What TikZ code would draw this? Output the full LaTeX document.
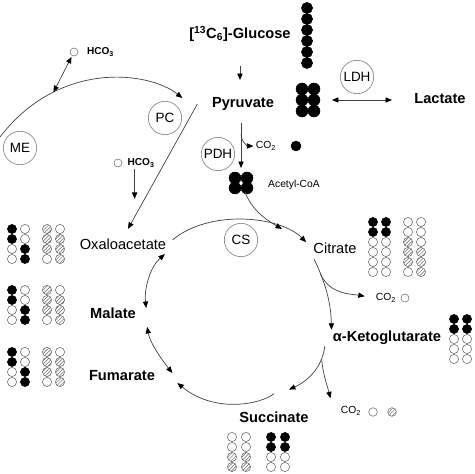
\documentclass[tikz,border=0pt]{standalone}
\usepackage{fontspec}
\setmainfont{Liberation Sans}
\usetikzlibrary{arrows.meta,positioning,patterns,shapes}

% one column of carbon atoms, 10 units apart
\newcommand{\ccol}[3]{%
  \foreach \s [count=\i from 0] in {#3}
    \draw[c\s] (#1,{#2-10*\i}) circle[radius=4.6];%
}

\begin{document}
\begin{tikzpicture}[
    x=0.03cm, y=0.03cm,
    met/.style={font=\fontsize{12.5}{14}\selectfont, inner sep=1pt},
    metb/.style={font=\fontsize{12.5}{14}\selectfont\bfseries, inner sep=1pt},
    enzyme/.style={circle, draw=black!45, line width=0.6pt, minimum size=1cm, inner sep=0pt, font=\fontsize{11.5}{13}\selectfont},
    small/.style={font=\fontsize{8.8}{10}\selectfont, inner sep=1pt},
    smallb/.style={font=\fontsize{8.6}{10}\selectfont\bfseries, inner sep=1pt},
    arrow/.style={draw=black!75, line width=0.6pt, -{Triangle[length=5.5pt, width=4.5pt, color=black]}},
    darrow/.style={arrow, {Triangle[length=5.5pt, width=4.5pt, color=black]}-{Triangle[length=5.5pt, width=4.5pt, color=black]}},
    cb/.style={draw=black, fill=black, line width=0.4pt},
    cw/.style={draw=black!55, fill=white, line width=0.5pt},
    ch/.style={draw=black!55, line width=0.5pt, pattern=north east lines, pattern color=black!60},
    cnode/.style={circle, cw, minimum size=0.24cm, inner sep=0pt}
]
\useasboundingbox (0,0) rectangle (474,474);

% Metabolites
\node[metb] (glucose) at (240,440) {[\textsuperscript{13}C\textsubscript{6}]-Glucose};
\node[metb] (pyruvate) at (243,370) {Pyruvate};
\node[metb] (lactate) at (440,375) {Lactate};
\node[small] (acetyl) at (294,289) {Acetyl-CoA};
\node[met] (oaa) at (123,230) {Oxaloacetate};
\node[met] (citrate) at (335,226) {Citrate};
\node[metb] (akg) at (387,136) {α-Ketoglutarate};
\node[metb] (succinate) at (274,57) {Succinate};
\node[metb] (fumarate) at (122,98) {Fumarate};
\node[metb] (malate) at (113,161) {Malate};

% Enzymes
\node[enzyme] (ldh) at (357,397) {LDH};
\node[enzyme] (pdh) at (218,320) {PDH};
\node[enzyme] (pc) at (165,356) {PC};
\node[enzyme] (me) at (20,326) {ME};
\node[enzyme] (cs) at (241,234) {CS};

% Released / added carbons
\node[small] (co2_pdh) at (266,328) {CO\textsubscript{2}};
\node[small] (co2_cit) at (386,176) {CO\textsubscript{2}};
\node[small] (co2_akg) at (351,63) {CO\textsubscript{2}};
\node[cnode] (hco3_me_c) at (74,422) {};
\node[smallb, right=0.22cm of hco3_me_c] (hco3_me) {HCO\textsubscript{3}};
\node[cnode] (hco3_pc_c) at (118,311) {};
\node[smallb, right=0.12cm of hco3_pc_c] (hco3_pc) {HCO\textsubscript{3}};

% Carbon atoms
\foreach \k in {0,...,5} \draw[cb] (307,{466-11*\k}) circle[radius=5.6];
\foreach \cx in {302,314} \foreach \k in {0,1,2} \draw[cb] (\cx,{385-11*\k}) circle[radius=6];
\foreach \cx in {235,247} \foreach \k in {0,1} \draw[cb] (\cx,{296-10*\k}) circle[radius=6];
\draw[cb] (296,328) circle[radius=5];
\coordinate (pyr_c) at (308,374);
\coordinate (acoa_c) at (241,291);
\foreach \gy in {245,184,122} {
  \ccol{12}{\gy}{b,b,w,w}
  \ccol{25}{\gy}{w,w,b,b}
  \ccol{47}{\gy}{h,h,h,w}
  \ccol{60}{\gy}{w,h,h,h}
}
\ccol{373}{252}{b,b,w,w,w,w}
\ccol{386}{252}{b,b,w,w,w,w}
\ccol{408}{252}{w,w,h,h,h,w}
\ccol{421}{252}{w,w,w,h,h,h}
\ccol{454}{155}{b,b,w,w,w}
\ccol{467}{155}{b,b,w,w,w}
\ccol{232}{37}{w,w,h,h}
\ccol{246}{37}{w,w,h,h}
\ccol{271}{37}{b,b,w,w}
\ccol{285}{37}{b,b,w,w}
\draw[cw] (405,176) circle[radius=4];
\draw[cw] (373,62) circle[radius=4.3];
\draw[ch] (392,62) circle[radius=4.3];

% Glycolysis and pyruvate branches
\draw[arrow, shorten <=0.68cm, shorten >=0.48cm] (glucose.south) -- (glucose.south |- pyruvate.north);
\draw[darrow, shorten <=0.72cm, shorten >=0.63cm] (pyr_c) -- (pyr_c -| lactate.west);
\draw[arrow, shorten <=0.33cm, shorten >=0.45cm] (pyruvate.south -| acoa_c) -- (acoa_c) coordinate[pos=0.32] (pdh_br);
\draw[arrow, shorten >=1pt] (pdh_br) to[out=-90, in=180] (co2_pdh.west);

% Anaplerosis
\coordinate (me_in) at (0,337);
\draw[arrow] (me_in) .. controls (60,415) and (150,402) .. ([xshift=-0.85cm, yshift=0.18cm]pyruvate.west) coordinate[pos=0.27] (me_hco);
\draw[darrow, shorten >=1pt] (me_hco) -- (hco3_me_c);
\draw[arrow] ([xshift=-0.4cm]pyruvate.west) -- ([xshift=0.15cm, yshift=0.25cm]oaa.north) coordinate[pos=0.76] (pc_in);
\coordinate (hco_x) at ([xshift=0.25cm]hco3_pc.south west);
\draw[arrow] (hco_x) -- (hco_x |- pc_in);

% TCA cycle
\draw[arrow, shorten <=0.2cm, shorten >=0.25cm] (oaa.east) .. controls (210,265) and (280,258) .. (citrate.west) coordinate[pos=0.75] (cs_in);
\draw[arrow, shorten <=0.3cm] (acoa_c) .. controls (252,265) and (263,256) .. (cs_in);
\draw[arrow, shorten <=0.15cm] (citrate.south west) .. controls (325,192) and (331,172) .. (akg.north west) coordinate[pos=0.25] (cit_br);
\draw[arrow, shorten >=0.3cm] (cit_br) to[out=-65, in=170] (co2_cit.west);
\draw[arrow] ([xshift=-0.2cm]akg.south west) .. controls (322,105) and (306,92) .. ([xshift=0.45cm, yshift=0.62cm]succinate.north) coordinate[pos=0.2] (akg_br);
\draw[arrow] (akg_br) to[out=-85, in=105] ([xshift=-0.27cm, yshift=0.21cm]co2_akg.north west);
\draw[arrow] ([yshift=0.5cm]succinate.north) .. controls (262,70) and (215,60) .. ([xshift=0.63cm, yshift=-0.21cm]fumarate.east);
\draw[darrow] ([xshift=0.48cm, yshift=0.09cm]fumarate.east) .. controls (162,114) and (150,131) .. ([xshift=0.3cm, yshift=-0.42cm]malate.east);
\draw[darrow] ([xshift=0.27cm, yshift=0.15cm]malate.east) .. controls (144,185) and (150,207) .. ([xshift=-0.08cm, yshift=-0.1cm]oaa.south east);

\end{tikzpicture}
\end{document}
